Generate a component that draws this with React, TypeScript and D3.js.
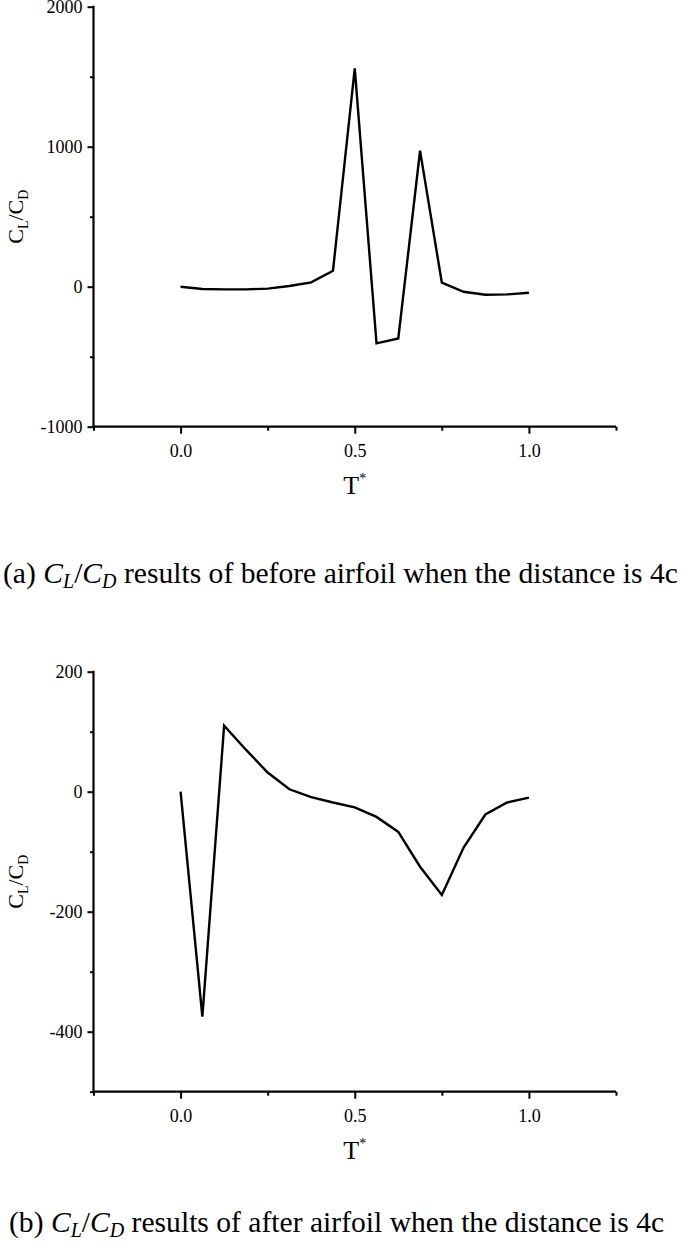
import { useEffect, useRef } from "react";
import * as d3 from "d3";

// T* sample points (1/16 steps)
const tStar = [0, 0.0625, 0.125, 0.1875, 0.25, 0.3125, 0.375, 0.4375, 0.5, 0.5625, 0.625, 0.6875, 0.75, 0.8125, 0.875, 0.9375, 1.0];

// (a) before airfoil
const beforeRatio = [0, -16, -19, -19, -14, 5, 31, 114, 1560, -405, -370, 971, 29, -36, -57, -55, -43];
// (b) after airfoil
const afterRatio = [0, -375, 110, 70, 32, 4, -9, -18, -26, -42, -67, -125, -172, -93, -38, -18, -10];

const xMajor = [0, 0.5, 1.0];
const xMinor = [-0.25, 0.25, 0.75, 1.25];
const beforeYMajor = [-1000, 0, 1000, 2000];
const beforeYMinor = [-500, 500, 1500];
const afterYMajor = [-400, -200, 0, 200];
const afterYMinor = [-500, -300, -100, 100];

const serif = "'Liberation Serif', 'Times New Roman', serif";

function drawPanel(svg, opts) {
  const { values, yDomain, yMajor, yMinor, top, bottom, captionY, captionX, tag, rest } = opts;
  const left = 93.5;
  const right = 616;

  const x = d3.scaleLinear().domain([-0.25, 1.25]).range([left, right]);
  const y = d3.scaleLinear().domain(yDomain).range([bottom, top]);

  const g = svg.append("g");

  // axes
  const xAxis = g.append("g").attr("transform", `translate(0,${bottom})`);
  xAxis.append("g")
    .call(d3.axisBottom(x).tickValues(xMajor).tickSize(7).tickPadding(11).tickFormat(d3.format(".1f")))
    .call((s) => s.select(".domain").remove());
  xAxis.append("g")
    .call(d3.axisBottom(x).tickValues(xMinor).tickSize(4).tickFormat(() => ""))
    .call((s) => s.select(".domain").remove());

  const yAxis = g.append("g").attr("transform", `translate(${left},0)`);
  yAxis.append("g")
    .call(d3.axisLeft(y).tickValues(yMajor).tickSize(6).tickPadding(5).tickFormat(d3.format("d")))
    .call((s) => s.select(".domain").remove());
  yAxis.append("g")
    .call(d3.axisLeft(y).tickValues(yMinor).tickSize(3.5).tickFormat(() => ""))
    .call((s) => s.select(".domain").remove());

  g.selectAll(".tick line").attr("stroke", "#000").attr("stroke-width", 2);
  g.selectAll(".tick text")
    .attr("fill", "#000")
    .attr("font-family", serif)
    .attr("font-size", 18)
    .text(function () {
      // plain hyphen minus like the original
      return d3.select(this).text().replace("\u2212", "-");
    });

  g.append("line")
    .attr("x1", left).attr("x2", right)
    .attr("y1", bottom).attr("y2", bottom)
    .attr("stroke", "#000").attr("stroke-width", 2.2);
  g.append("line")
    .attr("x1", left).attr("x2", left)
    .attr("y1", top - 1).attr("y2", bottom + 1)
    .attr("stroke", "#000").attr("stroke-width", 2.2);

  // line
  const line = d3.line().x((d) => x(d[0])).y((d) => y(d[1]));
  g.append("path")
    .datum(tStar.map((t, i) => [t, values[i]]))
    .attr("d", line)
    .attr("fill", "none")
    .attr("stroke", "#000")
    .attr("stroke-width", 2.4)
    .attr("stroke-linejoin", "miter");

  // x label T*
  const xl = g.append("text")
    .attr("x", x(0.5))
    .attr("y", bottom + 67)
    .attr("text-anchor", "middle")
    .attr("font-family", serif)
    .attr("font-size", 26);
  xl.append("tspan").text("T");
  xl.append("tspan").attr("font-size", 14).attr("dy", -11).text("*");

  // y label C_L/C_D
  const midY = (top + bottom) / 2;
  const yl = g.append("text")
    .attr("transform", `translate(23,${midY}) rotate(-90)`)
    .attr("text-anchor", "middle")
    .attr("font-family", serif)
    .attr("font-size", 22);
  yl.append("tspan").text("C");
  yl.append("tspan").attr("font-size", 14).attr("dy", 5).text("L");
  yl.append("tspan").attr("dy", -5).text("/C");
  yl.append("tspan").attr("font-size", 14).attr("dy", 5).text("D");

  // caption
  const cap = svg.append("text")
    .attr("x", captionX)
    .attr("y", captionY)
    .attr("font-family", serif)
    .attr("font-size", 29.6);
  cap.append("tspan").text(`(${tag}) `);
  cap.append("tspan").attr("font-style", "italic").text("C");
  cap.append("tspan").attr("font-style", "italic").attr("font-size", 20).attr("dy", 5).text("L");
  cap.append("tspan").attr("dy", -5).text("/");
  cap.append("tspan").attr("font-style", "italic").text("C");
  cap.append("tspan").attr("font-style", "italic").attr("font-size", 20).attr("dy", 5).text("D");
  cap.append("tspan").attr("dy", -5).text(rest);
}

export default function App() {
  const svgRef = useRef(null);

  useEffect(() => {
    if (!svgRef.current) return;
    const svg = d3.select(svgRef.current);
    svg.selectAll("*").remove();

    drawPanel(svg, {
      values: beforeRatio,
      yDomain: [-1000, 2000],
      yMajor: beforeYMajor,
      yMinor: beforeYMinor,
      top: 6.7,
      bottom: 426.7,
      captionX: 3,
      captionY: 583,
      tag: "a",
      rest: " results of before airfoil when the distance is 4c",
    });

    drawPanel(svg, {
      values: afterRatio,
      yDomain: [-500, 200],
      yMajor: afterYMajor,
      yMinor: afterYMinor,
      top: 671.7,
      bottom: 1091.7,
      captionX: 9,
      captionY: 1232,
      tag: "b",
      rest: " results of after airfoil when the distance is 4c",
    });
  }, []);

  return (
    <svg
      ref={svgRef}
      width={685}
      height={1252}
      style={{ position: "absolute", left: 0, top: 0, background: "#fff" }}
    />
  );
}
